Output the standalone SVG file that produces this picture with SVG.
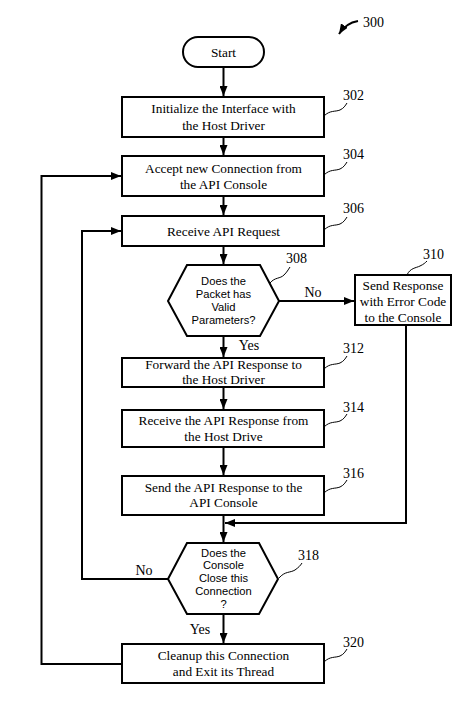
<svg xmlns="http://www.w3.org/2000/svg" width="474" height="708" viewBox="0 0 474 708">
<style>
.box{fill:#fff;stroke:#000;stroke-width:2}
.t{font-family:"Liberation Serif",serif;font-size:13.3px;text-anchor:middle;fill:#000}
.s{font-family:"Liberation Sans",Arial,sans-serif;font-size:11.2px;text-anchor:middle;fill:#000}
.lb{font-family:"Liberation Serif",serif;font-size:14px;fill:#000}
.ln{fill:none;stroke:#000;stroke-width:2}
.sq{fill:none;stroke:#000;stroke-width:1}
</style>
<defs>
<marker id="ah" markerWidth="10" markerHeight="8" refX="10" refY="4" orient="auto" markerUnits="userSpaceOnUse">
<path d="M0,0 L10,4 L0,8 Z" fill="#000"/>
</marker>
</defs>
<rect width="474" height="708" fill="#fff"/>
<g id="connectors">
<line class="ln" x1="223.5" y1="67" x2="223.5" y2="96" marker-end="url(#ah)"/>
<line class="ln" x1="223.5" y1="137" x2="223.5" y2="155" marker-end="url(#ah)"/>
<line class="ln" x1="223.5" y1="196" x2="223.5" y2="215" marker-end="url(#ah)"/>
<line class="ln" x1="223.5" y1="246" x2="223.5" y2="264" marker-end="url(#ah)"/>
<line class="ln" x1="223.5" y1="336" x2="223.5" y2="357" marker-end="url(#ah)"/>
<line class="ln" x1="223.5" y1="387" x2="223.5" y2="409" marker-end="url(#ah)"/>
<line class="ln" x1="223.5" y1="447" x2="223.5" y2="475" marker-end="url(#ah)"/>
<line class="ln" x1="223.5" y1="515" x2="223.5" y2="542" marker-end="url(#ah)"/>
<line class="ln" x1="223.5" y1="614" x2="223.5" y2="643" marker-end="url(#ah)"/>
<line class="ln" x1="279" y1="301" x2="354" y2="301" marker-end="url(#ah)"/>
<polyline class="ln" points="406,325 406,523 225,523" marker-end="url(#ah)"/>
<polyline class="ln" points="168,579 82,579 82,231 121,231" marker-end="url(#ah)"/>
<polyline class="ln" points="122,664 41.5,664 41.5,176 121,176" marker-end="url(#ah)"/>
<text class="lb" x="313" y="297" text-anchor="middle">No</text>
<text class="lb" x="249" y="350" text-anchor="middle">Yes</text>
<text class="lb" x="144" y="575" text-anchor="middle">No</text>
<text class="lb" x="200" y="634" text-anchor="middle">Yes</text>
</g>
<g id="ref300">
<path class="ln" d="M358,21 Q346,23 339,34" stroke-width="1.5" marker-end="url(#ah)"/>
<text class="lb" x="363" y="27">300</text>
</g>
<g id="start">
<rect class="box" x="183" y="37" width="81" height="30" rx="15"/>
<text class="t" x="223.5" y="57">Start</text>
</g>
<g id="n302">
<rect class="box" x="122" y="97" width="202" height="40"/>
<text class="t" x="223.5" y="113">Initialize the Interface with</text>
<text class="t" x="223.5" y="130">the Host Driver</text>
<path class="sq" d="M324,116 C330,110 335,112 340,110 C344,108 345,106 347,103"/>
<text class="lb" x="343" y="100">302</text>
</g>
<g id="n304">
<rect class="box" x="122" y="156" width="202" height="40"/>
<text class="t" x="223.5" y="173">Accept new Connection from</text>
<text class="t" x="223.5" y="189">the API Console</text>
<path class="sq" d="M324,175 C330,169 335,171 340,169 C344,167 345,165 347,162"/>
<text class="lb" x="343" y="159">304</text>
</g>
<g id="n306">
<rect class="box" x="122" y="216" width="202" height="30"/>
<text class="t" x="223.5" y="236">Receive API Request</text>
<path class="sq" d="M324,230 C330,224 335,226 340,224 C344,222 345,220 347,217"/>
<text class="lb" x="343" y="213">306</text>
</g>
<g id="n308">
<polygon class="box" points="168,301 187,265 260,265 279,301 260,336 187,336"/>
<text class="s" x="223.5" y="285">Does the</text>
<text class="s" x="223.5" y="298">Packet has</text>
<text class="s" x="223.5" y="311">Valid</text>
<text class="s" x="223.5" y="324">Parameters?</text>
<path class="sq" d="M270,283 C275,277 280,279 284,275 C287,272 288,270 290,267"/>
<text class="lb" x="286" y="263">308</text>
</g>
<g id="n310">
<rect class="box" x="355" y="275" width="96" height="50"/>
<text class="t" x="403" y="290">Send Response</text>
<text class="t" x="403" y="306">with Error Code</text>
<text class="t" x="403" y="322">to the Console</text>
<path class="sq" d="M407,275 C410,268 416,268 420,266 C424,264 425,263 427,261"/>
<text class="lb" x="423" y="259">310</text>
</g>
<g id="n312">
<rect class="box" x="122" y="358" width="202" height="29"/>
<text class="t" x="223.5" y="369">Forward the API Response to</text>
<text class="t" x="223.5" y="384">the Host Driver</text>
<path class="sq" d="M324,369 C330,363 335,365 340,363 C344,361 345,359 347,356"/>
<text class="lb" x="343" y="353">312</text>
</g>
<g id="n314">
<rect class="box" x="122" y="410" width="202" height="37"/>
<text class="t" x="223.5" y="425">Receive the API Response from</text>
<text class="t" x="223.5" y="441">the Host Drive</text>
<path class="sq" d="M324,427 C330,421 335,423 340,421 C344,419 345,417 347,414"/>
<text class="lb" x="343" y="412">314</text>
</g>
<g id="n316">
<rect class="box" x="122" y="476" width="202" height="39"/>
<text class="t" x="223.5" y="492">Send the API Response to the</text>
<text class="t" x="223.5" y="507">API Console</text>
<path class="sq" d="M324,493 C330,487 335,489 340,487 C344,485 345,483 347,480"/>
<text class="lb" x="343" y="478">316</text>
</g>
<g id="n318">
<polygon class="box" points="168,579 187,543 259,543 278,579 259,614 187,614"/>
<text class="s" x="223.5" y="557">Does the</text>
<text class="s" x="223.5" y="569">Console</text>
<text class="s" x="223.5" y="582">Close this</text>
<text class="s" x="223.5" y="595">Connection</text>
<text class="s" x="223.5" y="608">?</text>
<path class="sq" d="M279,578 C285,571 290,573 295,570 C299,567 300,566 302,563"/>
<text class="lb" x="298" y="560">318</text>
</g>
<g id="n320">
<rect class="box" x="122" y="644" width="202" height="39"/>
<text class="t" x="223.5" y="660">Cleanup this Connection</text>
<text class="t" x="223.5" y="676">and Exit its Thread</text>
<path class="sq" d="M324,662 C330,656 335,658 340,656 C344,654 345,652 347,649"/>
<text class="lb" x="343" y="647">320</text>
</g>
</svg>
